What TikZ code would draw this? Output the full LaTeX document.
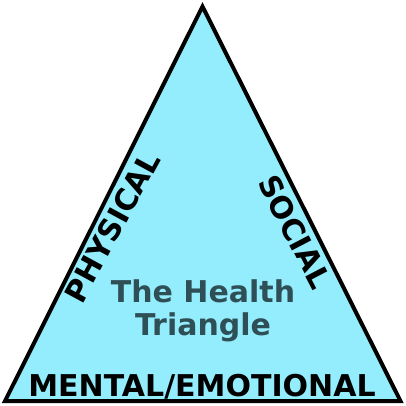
\documentclass[tikz,border=0pt]{standalone}
\usepackage{fontspec}
\setmainfont{DejaVu Sans}
\definecolor{skyfill}{HTML}{94EDFC}
\definecolor{slatetext}{HTML}{2F4F57}

\begin{document}
\begin{tikzpicture}[x=1pt,y=-1pt,
  side/.style={font=\fontsize{30}{33}\selectfont\bfseries, inner sep=0pt},
  title/.style={font=\fontsize{30}{33}\selectfont\bfseries, text=slatetext, align=center, inner sep=0pt}]
\useasboundingbox (0,0) rectangle (405,406);
\coordinate (top) at (202.5,6.5);
\coordinate (left) at (5,401);
\coordinate (right) at (400.5,401);
\filldraw[fill=skyfill, draw=black, line width=4pt, line join=miter] (top) -- (left) -- (right) -- cycle;
\node[side, rotate=61.5] (phys) at (112,227) {PHYSICAL};
\node[side, rotate=-62.5] (soc) at (295,232) {SOCIAL};
\node[side, anchor=base] (ment) at (202,396) {MENTAL/EMOTIONAL};
\node[title, anchor=base] (health) at (203,335) {The Health\\Triangle};
\end{tikzpicture}
\end{document}
